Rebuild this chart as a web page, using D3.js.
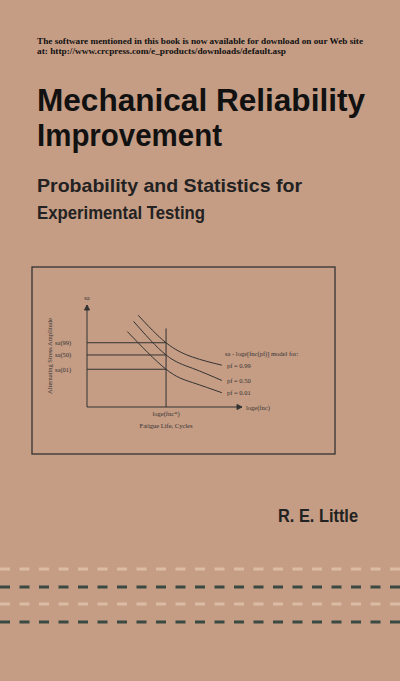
<!DOCTYPE html>
<html><head><meta charset="utf-8">
<script src="https://cdn.jsdelivr.net/npm/d3@7"></script>
<style>body{margin:0;background:#c59c84;}svg{display:block;}</style>
</head><body>
<script>
// curve data: [log life, stress amplitude]
const curve99 = [[3.3, 9.0], [5.1, 6.3], [6.8, 4.9], [8.7, 4.1]];
const curve50 = [[3.0, 8.4], [5.1, 5.1], [6.8, 3.8], [8.7, 2.6]];
const curve01 = [[2.6, 7.4], [5.1, 3.7], [6.8, 2.4], [8.7, 1.4]];
const curveLabels = ["pf = 0.99", "pf = 0.50", "pf = 0.01"];
const levelLabels = ["sa(99)", "sa(50)", "sa(01)"];
const lifeStar = 5.1;

const svg = d3.select("body").append("svg").attr("width", 400).attr("height", 681);
const ink = "#111";

// helper for fitted text lines
const fit = (t, xx, yy, len, size, family, col) => svg.append("text").attr("x", xx).attr("y", yy)
  .attr("textLength", len).attr("lengthAdjust", "spacingAndGlyphs").attr("font-family", family)
  .attr("font-weight", "bold").attr("font-size", size).attr("fill", col).text(t);

const serif = "Liberation Serif";
fit("The software mentioned in this book is now available for download on our Web site", 37, 44, 326, 8.6, serif, ink);
fit("at: http://www.crcpress.com/e_products/downloads/default.asp", 37, 54, 249, 8.6, serif, ink);

const sans = "Liberation Sans, Arial";
fit("Mechanical Reliability", 37, 111, 328, 31, sans, ink);
fit("Improvement", 37, 146, 185, 31, sans, ink);
fit("Probability and Statistics for", 37, 192, 265, 18.5, sans, "#222");
fit("Experimental Testing", 37, 219, 168, 18.5, sans, "#222");
fit("R. E. Little", 278, 522, 80, 18.5, sans, "#222");

// chart frame
svg.append("rect").attr("x", 32).attr("y", 267).attr("width", 303).attr("height", 187)
  .attr("fill", "none").attr("stroke", "#333").attr("stroke-width", 1.3);

const x = d3.scaleLinear().domain([0, 10]).range([87, 242]);
const y = d3.scaleLinear().domain([0, 10]).range([407, 305]);
const g = svg.append("g").attr("stroke", "#333").attr("fill", "none").attr("stroke-width", 1);

g.append("path").attr("d", `M${x(0)},${y(0)}V${y(10)}M${x(0)},${y(0)}H${x(10)}`);
g.append("path").attr("fill", "#333").attr("d", `M${x(0)-2.5},${y(10)+5}L${x(0)},${y(10)}L${x(0)+2.5},${y(10)+5}Z`);
g.append("path").attr("fill", "#333").attr("d", `M${x(10)-5},${y(0)-2.5}L${x(10)},${y(0)}L${x(10)-5},${y(0)+2.5}Z`);
g.append("line").attr("x1", x(lifeStar)).attr("x2", x(lifeStar)).attr("y1", y(0)).attr("y2", y(7.7));

const line = d3.line().x(d => x(d[0])).y(d => y(d[1])).curve(d3.curveNatural);
const curves = [curve99, curve50, curve01];
curves.forEach((c, i) => {
  g.append("path").attr("d", line(c));
  const level = c[1][1];
  g.append("line").attr("x1", x(0)).attr("x2", x(lifeStar)).attr("y1", y(level)).attr("y2", y(level));
  svg.append("text").attr("x", 55).attr("y", y(level) + 2.5).attr("font-family", serif)
    .attr("font-size", 6.5).attr("fill", "#333").text(levelLabels[i]);
  svg.append("text").attr("x", 227).attr("y", y(c[3][1]) + 2.5).attr("font-family", serif)
    .attr("font-size", 6.5).attr("fill", "#333").text(curveLabels[i]);
});

const small = (t, xx, yy, anchor) => svg.append("text").attr("x", xx).attr("y", yy)
  .attr("text-anchor", anchor || "start").attr("font-family", serif).attr("font-size", 6.5)
  .attr("fill", "#333").text(t);
small("sa", x(0), 300, "middle");
small("sa - loge[fnc(pf)] model for:", 225, 356);
small("loge(fnc)", 246, 410);
small("loge(fnc*)", x(lifeStar), 416, "middle");
small("Fatigue Life, Cycles", x(lifeStar), 428, "middle");
svg.append("text").attr("transform", `translate(52,${y(5)}) rotate(-90)`).attr("text-anchor", "middle")
  .attr("font-family", serif).attr("font-size", 6.5).attr("fill", "#333").text("Alternating Stress Amplitude");

// decorative dashed rules
[[569, "#dcbba4"], [587, "#3a4a42"], [604, "#dcbba4"], [622, "#3a4a42"]].forEach(([yy, col]) =>
  svg.append("line").attr("x1", 0).attr("x2", 400).attr("y1", yy).attr("y2", yy)
    .attr("stroke", col).attr("stroke-width", 3).attr("stroke-dasharray", "10 9.5"));
</script>
</body></html>
